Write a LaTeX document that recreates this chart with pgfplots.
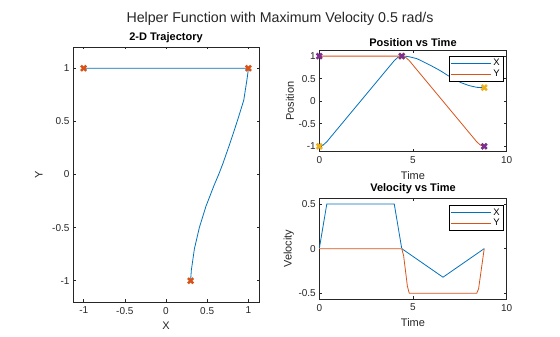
\documentclass[border=0pt]{standalone}
\usepackage{pgfplots}
\pgfplotsset{compat=1.18}
\usepackage{fontspec}
\setmainfont{Liberation Sans}
\definecolor{mblue}{rgb}{0,0.447,0.741}
\definecolor{morange}{rgb}{0.85,0.325,0.098}
\definecolor{myellow}{rgb}{0.929,0.694,0.125}
\definecolor{mpurple}{rgb}{0.494,0.184,0.556}
\definecolor{maxis}{rgb}{0.15,0.15,0.15}
\pgfplotsset{
  mstyle/.style={
    scale only axis,
    axis line style={draw=maxis, line width=0.5pt},
    tick style={maxis, line width=0.5pt},
    tick align=inside,
    major tick length=2.5pt,
    ticklabel style={font=\fontsize{10}{11}\selectfont, text=maxis},
    xticklabel style={yshift=-1.5pt},
    /pgf/number format/assume math mode=true,
    title style={font=\bfseries\fontsize{11}{12}\selectfont, text=black, inner sep=1.5pt, yshift=-3.5pt},
    label style={font=\fontsize{11}{12}\selectfont, text=maxis},
    xlabel style={inner sep=1pt, yshift=-3pt},
    ylabel style={inner sep=1pt},
    legend cell align=left,
    legend style={font=\fontsize{9.5}{10}\selectfont, inner sep=1.5pt, row sep=-1.5pt},
  },
  xmark/.style={only marks, mark=x, mark size=3.7pt, line width=2.5pt},
}
\begin{document}
\begin{tikzpicture}
\useasboundingbox (0pt,0pt) rectangle (560pt,337pt);
\node[font=\fontsize{14.2}{16}\selectfont, text=maxis] at (280pt,318.5pt) {Helper Function with Maximum Velocity 0.5 rad/s};

% 2-D trajectory
\begin{axis}[mstyle, at={(73pt,35pt)}, anchor=south west, width=186pt, height=255pt,
  xmin=-1.13, xmax=1.13, ymin=-1.2, ymax=1.2,
  xtick={-1,-0.5,0,0.5,1}, ytick={-1,-0.5,0,0.5,1},
  title={2-D Trajectory}, xlabel={X}, ylabel={Y},
  ylabel style={yshift=5pt}]
\addplot[draw=mblue, line width=0.8pt] coordinates {
(-1,1) (1,1) (0.998,0.975) (0.985,0.9) (0.945,0.7) (0.865,0.5) (0.78,0.3)
(0.69,0.1) (0.64,0) (0.585,-0.1) (0.485,-0.3) (0.405,-0.5) (0.345,-0.7)
(0.308,-0.9) (0.301,-0.975) (0.3,-1)};
\addplot[xmark, morange] coordinates {(-1,1) (1,1) (0.3,-1)};
\end{axis}

% Position vs Time
\begin{axis}[mstyle, at={(319.3pt,185.3pt)}, anchor=south west, width=187.4pt, height=101pt,
  xmin=0, xmax=10, ymin=-1.12, ymax=1.12,
  xtick={0,5,10}, ytick={-1,-0.5,0,0.5,1},
  title={Position vs Time}, xlabel={Time}, ylabel={Position},
  legend image code/.code={\draw[#1] (0pt,0pt) -- (40pt,0pt);},
  legend style={at={(0.982,0.95)}, anchor=north east}]
\addplot[mblue, no marks, line width=0.8pt, forget plot] table {
0 -1
0.2 -0.975
0.4 -0.9
4.0 0.9
4.2 0.975
4.4 1.0
4.6 0.998
4.8 0.985
5.2 0.945
5.6 0.865
6.0 0.78
6.4 0.69
6.6 0.64
6.8 0.585
7.2 0.485
7.6 0.405
8.0 0.345
8.4 0.308
8.6 0.301
8.8 0.3
};
\addplot[morange, no marks, line width=0.8pt, forget plot] table {
0 1
4.4 1
4.6 0.975
4.8 0.9
8.4 -0.9
8.6 -0.975
8.8 -1
};
\addplot[xmark, myellow, forget plot] coordinates {(0,-1) (4.4,1) (8.8,0.3)};
\addplot[xmark, mpurple, forget plot] coordinates {(0,1) (4.4,1) (8.8,-1)};
\addlegendimage{draw=mblue, line width=0.9pt}
\addlegendentry{X}
\addlegendimage{draw=morange, line width=0.9pt}
\addlegendentry{Y}
\end{axis}

% Velocity vs Time
\begin{axis}[mstyle, at={(319.3pt,38pt)}, anchor=south west, width=187.4pt, height=100.7pt,
  xmin=0, xmax=10, ymin=-0.564, ymax=0.564,
  xtick={0,5,10}, ytick={-0.5,0,0.5},
  title={Velocity vs Time}, xlabel={Time}, ylabel={Velocity},
  legend image code/.code={\draw[#1] (0pt,0pt) -- (40pt,0pt);},
  legend style={at={(0.982,0.935)}, anchor=north east}]
\addplot[mblue, no marks, line width=0.8pt, forget plot] coordinates {
(0,0) (0.4,0.5) (4.0,0.5) (4.4,0) (6.6,-0.32) (8.8,0)};
\addplot[morange, no marks, line width=0.8pt, forget plot] coordinates {
(0,0) (4.4,0) (4.5,-0.08) (4.6,-0.25) (4.7,-0.42) (4.8,-0.5) (8.4,-0.5) (8.5,-0.45) (8.6,-0.3) (8.8,0)};
\addplot[draw=morange!65, line width=1.6pt, forget plot] coordinates {(0,0) (4.4,0)};
\addlegendimage{draw=mblue, line width=0.9pt}
\addlegendentry{X}
\addlegendimage{draw=morange, line width=0.9pt}
\addlegendentry{Y}
\end{axis}
\end{tikzpicture}
\end{document}
